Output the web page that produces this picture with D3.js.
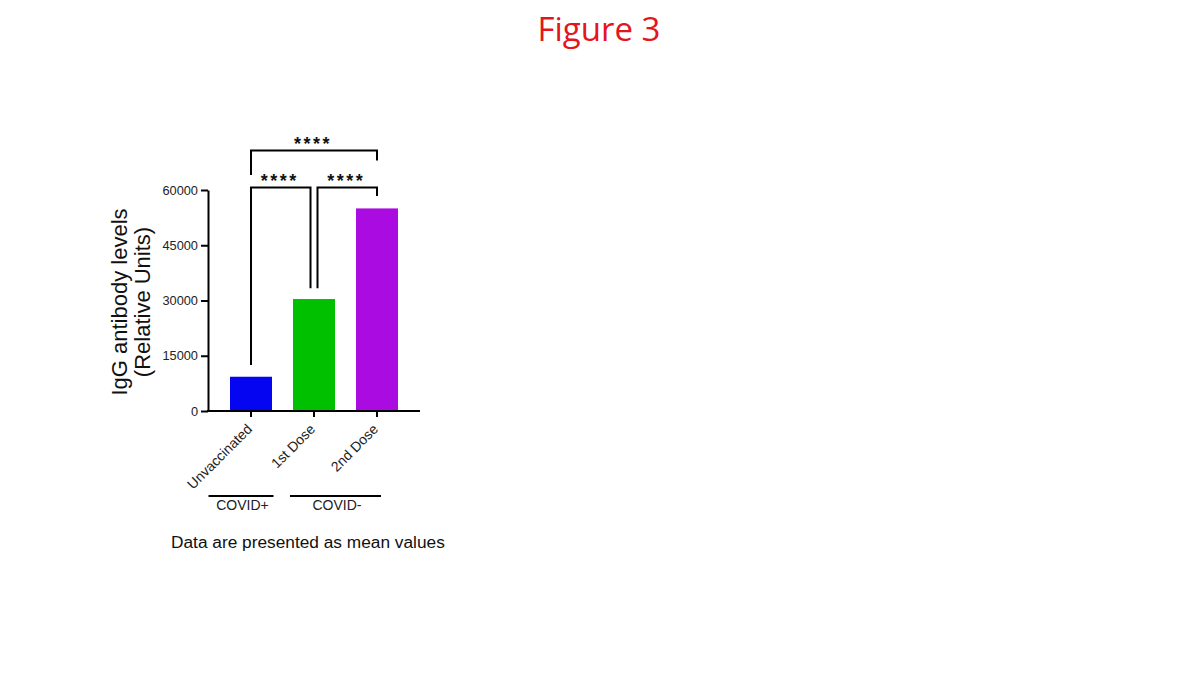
<!DOCTYPE html>
<html>
<head>
<meta charset="utf-8">
<script src="https://cdn.jsdelivr.net/npm/d3@7"></script>
<style>
  body { margin: 0; background: #fff; }
  svg { display: block; }
  text { font-family: "Liberation Sans", Arial, sans-serif; fill: #111; }
</style>
</head>
<body>
<svg id="fig" width="1200" height="675"></svg>
<script>
// bar chart data
var categories = ["Unvaccinated", "1st Dose", "2nd Dose"];
var meanValues = [9300, 30400, 55000];
var barColors = ["#0505f2", "#00c000", "#a90be0"];
var yTicks = [0, 15000, 30000, 45000, 60000];

// groups under the x axis: first and last category index
var groupLabels = ["COVID+", "COVID-"];
var groupFirst = [0, 1];
var groupLast = [0, 2];

// significance brackets (category indexes, heights in axis units)
var compareFrom = [0, 1, 0];
var compareTo = [1, 2, 2];
var compareStars = ["****", "****", "****"];
var bracketLevel = [60700, 60700, 70700];
var bracketLeftEnd = [12500, 33300, 64100];
var bracketRightEnd = [33300, 58400, 68000];

var svg = d3.select("#fig");

// title
svg.append("text").attr("x", 599).attr("y", 41)
    .attr("text-anchor", "middle")
    .style("font-family", "'Open Sans', sans-serif")
    .style("font-size", "33px").style("fill", "#e3161e")
    .text("Figure 3");

var axisX = 208;      // y axis position
var axisRight = 420;  // end of x axis line

var y = d3.scaleLinear().domain([0, 60000]).range([411, 190]);
var x = d3.scaleBand().domain(categories)
    .range([219.5, 408.5]).paddingInner(1 / 3).paddingOuter(1 / 6);

var center = function(i){
    return x(categories[i]) + x.bandwidth() / 2;
};

// bars
svg.append("g").selectAll("rect").data(meanValues).enter().append("rect")
    .attr("x", function(d, i){ return x(categories[i]); })
    .attr("y", function(d){ return y(d); })
    .attr("width", x.bandwidth())
    .attr("height", function(d){ return y(0) - y(d); })
    .style("fill", function(d, i){ return barColors[i]; });

// y axis
var yAxis = svg.append("g").attr("transform", "translate(" + axisX + ",0)")
    .call(d3.axisLeft(y).tickValues(yTicks).tickSize(7).tickSizeOuter(0).tickPadding(3)
        .tickFormat(d3.format("d")));
yAxis.selectAll("text").style("font-size", "12.8px").style("fill", "#222");

// x axis
var xAxis = svg.append("g").attr("transform", "translate(0," + y(0) + ")")
    .call(d3.axisBottom(x).tickSize(6).tickSizeOuter(0));
xAxis.select(".domain").remove();
xAxis.append("line").attr("x1", axisX - 1).attr("x2", axisRight)
    .attr("y1", 0).attr("y2", 0).attr("stroke", "#000");
xAxis.selectAll(".tick text")
    .style("font-size", "14px").style("fill", "#222")
    .attr("text-anchor", "end")
    .attr("y", 0).attr("dy", "0.71em")
    .attr("transform", "translate(-5,12) rotate(-45)");

svg.selectAll(".domain, .tick line, g > line").attr("stroke", "#000").attr("stroke-width", 2);

// y axis title
var yTitle = svg.append("text")
    .attr("transform", "translate(127,302) rotate(-90)")
    .attr("text-anchor", "middle")
    .style("font-size", "22px").style("fill", "#111");
yTitle.append("tspan").attr("x", 0).attr("y", 0).text("IgG antibody levels");
yTitle.append("tspan").attr("x", 0).attr("y", 23).text("(Relative Units)");

// significance brackets
var shared = function(k, idx){
    for (var m = 0; m < compareFrom.length; m++){
        if (m !== k && bracketLevel[m] === bracketLevel[k] &&
            (compareFrom[m] === idx || compareTo[m] === idx)) return true;
    }
    return false;
};
for (var k = 0; k < compareFrom.length; k++){
    var x1 = center(compareFrom[k]) + (shared(k, compareFrom[k]) ? 3.5 : 0);
    var x2 = center(compareTo[k]) - (shared(k, compareTo[k]) ? 3.5 : 0);
    var yl = y(bracketLevel[k]);
    svg.append("path")
        .attr("d", "M" + x1 + "," + y(bracketLeftEnd[k]) + "V" + yl +
            "H" + x2 + "V" + y(bracketRightEnd[k]))
        .attr("fill", "none").attr("stroke", "#000").attr("stroke-width", 2);
    svg.append("text").attr("x", (x1 + x2) / 2 - 1).attr("y", yl)
        .attr("text-anchor", "middle").attr("dy", "-0.05em")
        .style("font-size", "18px").style("font-weight", "bold")
        .style("letter-spacing", "2.5px")
        .text(compareStars[k]);
}

// group lines and labels
for (var g = 0; g < groupLabels.length; g++){
    var mid = (center(groupFirst[g]) + center(groupLast[g])) / 2 - 10;
    var half = 32.5 + (groupLast[g] - groupFirst[g]) * 13;
    svg.append("line").attr("x1", mid - half).attr("x2", mid + half)
        .attr("y1", 496).attr("y2", 496)
        .attr("stroke", "#000").attr("stroke-width", 2);
    svg.append("text").attr("x", mid + 1.5).attr("y", 510)
        .attr("text-anchor", "middle")
        .style("font-size", "14px").style("fill", "#222")
        .text(groupLabels[g]);
}

// footnote
svg.append("text").attr("x", 171).attr("y", 548)
    .style("font-size", "17.3px").style("fill", "#111")
    .text("Data are presented as mean values");
</script>
</body>
</html>
